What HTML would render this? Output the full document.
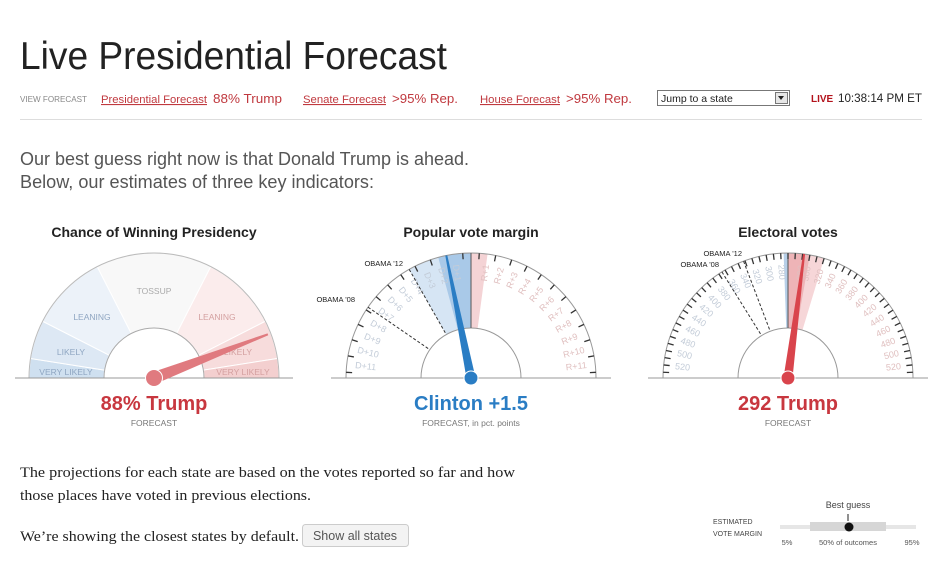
<!DOCTYPE html>
<html><head><meta charset="utf-8">
<style>
html,body{margin:0;padding:0;background:#fff;width:940px;height:564px;overflow:hidden}
svg{display:block;font-family:"Liberation Sans",Arial,sans-serif}
.ser{font-family:"Liberation Serif",serif}
</style></head><body>
<svg id="s" width="940" height="564" viewBox="0 0 940 564" xmlns="http://www.w3.org/2000/svg">
<text x="20" y="69" font-size="39" fill="#222" textLength="427" lengthAdjust="spacingAndGlyphs">Live Presidential Forecast</text>
<text x="20" y="102" font-size="8.5" fill="#888" textLength="67" lengthAdjust="spacingAndGlyphs">VIEW FORECAST</text>
<text x="101" y="103" font-size="11" fill="#c0393f" text-decoration="underline" textLength="106" lengthAdjust="spacingAndGlyphs">Presidential Forecast</text>
<text x="213" y="103" font-size="13" fill="#c0393f" textLength="69" lengthAdjust="spacingAndGlyphs">88% Trump</text>
<text x="303" y="103" font-size="11" fill="#c0393f" text-decoration="underline" textLength="83" lengthAdjust="spacingAndGlyphs">Senate Forecast</text>
<text x="392" y="103" font-size="13" fill="#c0393f" textLength="66" lengthAdjust="spacingAndGlyphs">&gt;95% Rep.</text>
<text x="480" y="103" font-size="11" fill="#c0393f" text-decoration="underline" textLength="80" lengthAdjust="spacingAndGlyphs">House Forecast</text>
<text x="566" y="103" font-size="13" fill="#c0393f" textLength="66" lengthAdjust="spacingAndGlyphs">&gt;95% Rep.</text>
<rect x="657.5" y="90.5" width="132" height="15" fill="#fff" stroke="#777"/>
<text x="661" y="102" font-size="10.5" fill="#222">Jump to a state</text>
<rect x="775.5" y="92.5" width="12" height="11" fill="#e6e6e6" stroke="#777"/>
<path d="M778 96h6l-3 4z" fill="#222"/>
<text x="811" y="102" font-size="10" font-weight="bold" fill="#b3121b">LIVE</text>
<text x="838" y="102" font-size="11.5" fill="#222" textLength="84" lengthAdjust="spacingAndGlyphs">10:38:14 PM ET</text>
<line x1="20" y1="119.5" x2="922" y2="119.5" stroke="#ddd"/>
<text x="20" y="165" font-size="18.5" fill="#555" textLength="449" lengthAdjust="spacingAndGlyphs">Our best guess right now is that Donald Trump is ahead.</text>
<text x="20" y="188" font-size="18.5" fill="#555" textLength="354" lengthAdjust="spacingAndGlyphs">Below, our estimates of three key indicators:</text>

<text x="154" y="237" font-size="14" font-weight="bold" fill="#222" text-anchor="middle">Chance of Winning Presidency</text>
<text x="471" y="237" font-size="14" font-weight="bold" fill="#222" text-anchor="middle">Popular vote margin</text>
<text x="788" y="237" font-size="14" font-weight="bold" fill="#222" text-anchor="middle">Electoral votes</text>

<g id="g1"></g><g id="g2"></g><g id="g3"></g>

<text x="154" y="410" font-size="20" font-weight="bold" fill="#c8373f" text-anchor="middle">88% Trump</text>
<text x="154" y="426" font-size="8.5" fill="#777" text-anchor="middle">FORECAST</text>
<text x="471" y="410" font-size="20" font-weight="bold" fill="#2a7dc4" text-anchor="middle">Clinton +1.5</text>
<text x="471" y="426" font-size="8.5" fill="#777" text-anchor="middle">FORECAST, in pct. points</text>
<text x="788" y="410" font-size="20" font-weight="bold" fill="#c8373f" text-anchor="middle">292 Trump</text>
<text x="788" y="426" font-size="8.5" fill="#777" text-anchor="middle">FORECAST</text>

<text class="ser" x="20" y="477" font-size="14.5" fill="#222" textLength="495" lengthAdjust="spacingAndGlyphs">The projections for each state are based on the votes reported so far and how</text>
<text class="ser" x="20" y="500" font-size="14.5" fill="#222" textLength="291" lengthAdjust="spacingAndGlyphs">those places have voted in previous elections.</text>
<text class="ser" x="20" y="541" font-size="14.5" fill="#222" textLength="279" lengthAdjust="spacingAndGlyphs">We’re showing the closest states by default.</text>
<rect x="302.5" y="524.5" width="106" height="22" rx="3" fill="#f3f3f3" stroke="#ccc"/>
<text x="355" y="540" font-size="12.5" fill="#555" text-anchor="middle">Show all states</text>

<text x="848" y="508" font-size="9" fill="#444" text-anchor="middle">Best guess</text>
<line x1="848" y1="514" x2="848" y2="521" stroke="#222"/>
<text x="713" y="524" font-size="7" fill="#444">ESTIMATED</text>
<text x="713" y="536" font-size="7" fill="#444">VOTE MARGIN</text>
<rect x="780" y="525" width="136" height="4" fill="#e6e6e6"/>
<rect x="810" y="522" width="76" height="9" fill="#d6d6d6"/>
<circle cx="849" cy="527" r="4.5" fill="#111"/>
<text x="787" y="545" font-size="7.5" fill="#555" text-anchor="middle">5%</text>
<text x="848" y="545" font-size="7.5" fill="#555" text-anchor="middle">50% of outcomes</text>
<text x="912" y="545" font-size="7.5" fill="#555" text-anchor="middle">95%</text>
</svg>
<script>
var NS="http://www.w3.org/2000/svg";
function el(p,t,a,txt){var e=document.createElementNS(NS,t);for(var k in a)e.setAttribute(k,a[k]);if(txt!=null)e.textContent=txt;p.appendChild(e);return e;}
function pt(cx,cy,r,a){var d=a*Math.PI/180;return [cx+r*Math.cos(d),cy-r*Math.sin(d)];}
function sector(cx,cy,r0,r1,a0,a1){var p1=pt(cx,cy,r1,a0),p2=pt(cx,cy,r1,a1),p3=pt(cx,cy,r0,a1),p4=pt(cx,cy,r0,a0);
return "M"+p1+" A"+r1+","+r1+" 0 0,0 "+p2+" L"+p3+" A"+r0+","+r0+" 0 0,1 "+p4+"Z";}
function needle(g,cx,cy,a,len,col,w){var t=pt(cx,cy,len,a),l=pt(cx,cy,w,a+90),r=pt(cx,cy,w,a-90),tl=pt(t[0],t[1],1,a+90),tr=pt(t[0],t[1],1,a-90);
el(g,"path",{d:"M"+l+" L"+tl+" L"+tr+" L"+r+"Z",fill:col});el(g,"circle",{cx:cx,cy:cy,r:w+2.5,fill:col,stroke:"#fff","stroke-width":1});}
var R=125,r=50,cy=378;
(function(){var g=document.getElementById("g1"),cx=154;
var segs=[[0,9,"#cfe0f0"],[9,27,"#dde8f4"],[27,63,"#ecf2f9"],[63,117,"#f8f8f8"],[117,153,"#fbecec"],[153,171,"#f7dcdc"],[171,180,"#f3cfcf"]];
segs.forEach(function(s){el(g,"path",{d:sector(cx,cy,r,R,180-s[1],180-s[0]),fill:s[2],stroke:"#fff","stroke-width":1});});
el(g,"path",{d:"M"+(cx-R)+","+cy+" A"+R+","+R+" 0 0,1 "+(cx+R)+","+cy,fill:"none",stroke:"#bbb"});
el(g,"path",{d:"M"+(cx-r)+","+cy+" A"+r+","+r+" 0 0,1 "+(cx+r)+","+cy,fill:"#fff",stroke:"#aaa"});
el(g,"line",{x1:15,y1:cy,x2:293,y2:cy,stroke:"#999"});
var L=[["VERY LIKELY",66,375],["LIKELY",71,355],["LEANING",92,320],["TOSSUP",154,294],["LEANING",217,320],["LIKELY",238,355],["VERY LIKELY",243,375]];
L.forEach(function(l,i){el(g,"text",{x:l[1],y:l[2],"font-size":8.5,fill:i<3?"#8fa6c2":(i>3?"#d4a0a0":"#aaa"),"text-anchor":"middle"},l[0]);});
needle(g,cx,cy,21,122,"#e07a7f",6);
})();
function scaleGauge(id,cx,opts){var g=document.getElementById(id);
opts.shades.forEach(function(s){el(g,"path",{d:sector(cx,cy,r,R,s[0],s[1]),fill:s[2]});});
el(g,"path",{d:"M"+(cx-R)+","+cy+" A"+R+","+R+" 0 0,1 "+(cx+R)+","+cy,fill:"none",stroke:"#999"});
el(g,"path",{d:"M"+(cx-r)+","+cy+" A"+r+","+r+" 0 0,1 "+(cx+r)+","+cy,fill:"#fff",stroke:"#999"});
el(g,"line",{x1:cx-140,y1:cy,x2:cx+140,y2:cy,stroke:"#999"});
opts.ticks.forEach(function(t){var a=pt(cx,cy,R,t[0]),b=pt(cx,cy,R-t[1],t[0]);el(g,"line",{x1:a[0],y1:a[1],x2:b[0],y2:b[1],stroke:"#333","stroke-width":1.3});});
opts.labels.forEach(function(l){var p=pt(cx,cy,R-19,l[0]);
el(g,"text",{x:p[0],y:p[1]+3,"font-size":9,fill:l[2],"text-anchor":"middle",transform:"rotate("+(l[0]>90?(180-l[0]):-l[0])+" "+p[0]+" "+p[1]+")"},l[1]);});
opts.dash.forEach(function(d){var a=pt(cx,cy,R,d[0]),b=pt(cx,cy,r,d[0]);el(g,"line",{x1:a[0],y1:a[1],x2:b[0],y2:b[1],stroke:"#333","stroke-dasharray":"3,2"});
el(g,"text",{x:d[2],y:d[3],"font-size":7.5,fill:"#222","text-anchor":"end"},d[1]);});
el(g,"line",{x1:cx,y1:cy-r,x2:cx,y2:cy-R,stroke:"#555"});
needle(g,cx,cy,opts.needle,125,opts.col,4.5);}
(function(){var k=7.6,t=[],lb=[];
for(var v=-11.5;v<=11.5;v+=1){t.push([90+v*k,6]);}
for(var i=1;i<=11;i++){lb.push([90+i*k,"D+"+i,"#c3ccd8"]);lb.push([90-i*k,"R+"+i,"#e0c0c0"]);}
scaleGauge("g2",471,{shades:[[90,90+3.9*k,"#d6e5f4"],[90,90+2*k,"#a9c9e8"],[90-k,90,"#f4d3d5"]],ticks:t,labels:lb,
dash:[[90+3.9*k,"OBAMA '12",403,266],[90+7.3*k,"OBAMA '08",355,302]],needle:101.4,col:"#2a7dc4"});})();
(function(){var k=0.336,t=[],lb=[];
for(var v=270;v<=538;v+=10){var d=v-270;t.push([90+d*k,6]);t.push([90-d*k,6]);}
[280,300,320,340,360,380,400,420,440,460,480,500,520].forEach(function(v){lb.push([90+(v-270)*k,""+v,"#c3ccd8"]);});
[290,300,320,340,360,380,400,420,440,460,480,500,520].forEach(function(v){lb.push([90-(v-270)*k,""+v,"#e0c0c0"]);});
scaleGauge("g3",788,{shades:[[90-50*k,90,"#f6d6d8"],[90-30*k,90,"#eeb4b7"],[90,90+6*k,"#b7cfe8"]],ticks:t,labels:lb,
dash:[[90+62*k,"OBAMA '12",742,256],[90+95*k,"OBAMA '08",719,267]],needle:90-22*k,col:"#d9444c"});})();
</script>
</body></html>
